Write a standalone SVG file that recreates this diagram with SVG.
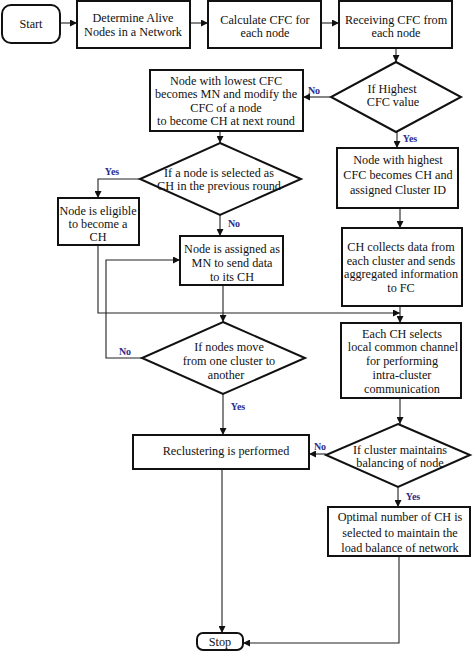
<svg xmlns="http://www.w3.org/2000/svg" width="474" height="652" viewBox="0 0 474 652">
<defs>
<marker id="ah" viewBox="0 0 8 8" refX="8" refY="4" markerWidth="7" markerHeight="7" markerUnits="userSpaceOnUse" orient="auto">
<path d="M0,0 L8,4 L0,8 Z" fill="#111"/>
</marker>
<style>
.box{fill:#fff;stroke:#111;stroke-width:2}
.t{font-family:"Liberation Serif","Times New Roman",serif;font-size:12.2px;fill:#111;text-anchor:middle}
.lbl{font-family:"Liberation Serif","Times New Roman",serif;font-size:10px;font-weight:bold;fill:#2b2b8c;text-anchor:middle}
.c{fill:none;stroke:#222;stroke-width:1.1}
.ca{fill:none;stroke:#222;stroke-width:1.1;marker-end:url(#ah)}
</style>
</defs>
<rect width="474" height="652" fill="#fff"/>

<g id="connectors">
<path class="ca" d="M60,23 H77"/>
<path class="ca" d="M190,23 H208"/>
<path class="ca" d="M321,23 H339"/>
<path class="ca" d="M396,48 V62"/>
<path class="ca" d="M330,97 H303"/>
<path class="ca" d="M397,132 V148"/>
<path class="ca" d="M220,131 V143"/>
<path class="ca" d="M140,179 H98 V198"/>
<path class="ca" d="M220,215 V236"/>
<path class="ca" d="M400,208 V228"/>
<path class="ca" d="M400,306 V323"/>
<path class="ca" d="M98,245 V313 H400"/>
<path class="ca" d="M223,285 V322"/>
<path class="ca" d="M142,358 H106 V260 H180"/>
<path class="ca" d="M223,394 V435"/>
<path class="ca" d="M400,398 V424"/>
<path class="ca" d="M326,454 H309"/>
<path class="ca" d="M398,487 V507"/>
<path class="ca" d="M222,469 V633"/>
<path class="ca" d="M399,556 V643 H243"/>
<text class="lbl" x="314" y="94">No</text>
<text class="lbl" x="410" y="142">Yes</text>
<text class="lbl" x="112" y="175">Yes</text>
<text class="lbl" x="234" y="227">No</text>
<text class="lbl" x="125" y="355">No</text>
<text class="lbl" x="238" y="410">Yes</text>
<text class="lbl" x="320" y="450">No</text>
<text class="lbl" x="413" y="500">Yes</text>
</g>

<g id="start">
<rect class="box" x="2" y="5" width="58" height="38" rx="9"/>
<text class="t" x="31" y="28">Start</text>
</g>

<g id="determine">
<rect class="box" x="77" y="1" width="113" height="47"/>
<text class="t" x="133" y="22">Determine Alive</text>
<text class="t" x="133" y="36">Nodes in a Network</text>
</g>

<g id="calculate">
<rect class="box" x="208" y="1" width="113" height="47"/>
<text class="t" x="265" y="24">Calculate CFC for</text>
<text class="t" x="265" y="37">each node</text>
</g>

<g id="receiving">
<rect class="box" x="339" y="1" width="113" height="47"/>
<text class="t" x="396" y="24">Receiving CFC from</text>
<text class="t" x="396" y="37">each node</text>
</g>

<g id="highest-decision">
<polygon class="box" points="396,62 461,97 396,132 331,97"/>
<text class="t" x="392" y="93">If Highest</text>
<text class="t" x="393" y="106">CFC value</text>
</g>

<g id="lowest-cfc">
<rect class="box" x="150" y="70" width="153" height="61"/>
<text class="t" x="226" y="85">Node with lowest CFC</text>
<text class="t" x="226" y="98">becomes MN and modify the</text>
<text class="t" x="226" y="112">CFC of a node</text>
<text class="t" x="226" y="125">to become CH at next round</text>
</g>

<g id="highest-ch">
<rect class="box" x="337" y="148" width="121" height="60"/>
<text class="t" x="398" y="164">Node with highest</text>
<text class="t" x="398" y="179">CFC  becomes CH and</text>
<text class="t" x="398" y="194">assigned Cluster ID</text>
</g>

<g id="previous-decision">
<polygon class="box" points="220,143 301,179 220,215 140,179"/>
<text class="t" x="219" y="177">If a node is selected as</text>
<text class="t" x="219" y="190">CH  in the previous round</text>
</g>

<g id="eligible">
<rect class="box" x="58" y="198" width="81" height="47"/>
<text class="t" x="98" y="215">Node is eligible</text>
<text class="t" x="98" y="228">to become a</text>
<text class="t" x="98" y="241">CH</text>
</g>

<g id="assigned">
<rect class="box" x="180" y="236" width="103" height="49"/>
<text class="t" x="232" y="253">Node is assigned as</text>
<text class="t" x="232" y="267">MN  to send data</text>
<text class="t" x="232" y="281">to its  CH</text>
</g>

<g id="collects">
<rect class="box" x="342" y="228" width="120" height="78"/>
<text class="t" x="401" y="251">CH collects data from</text>
<text class="t" x="401" y="265">each cluster and sends</text>
<text class="t" x="401" y="278">aggregated information</text>
<text class="t" x="401" y="292">to FC</text>
</g>

<g id="move-decision">
<polygon class="box" points="223,322 305,358 223,394 142,358"/>
<text class="t" x="229" y="351">If nodes move</text>
<text class="t" x="229" y="365">from one cluster to</text>
<text class="t" x="226" y="379">another</text>
</g>

<g id="channel">
<rect class="box" x="341" y="323" width="120" height="75"/>
<text class="t" x="402" y="338">Each CH selects</text>
<text class="t" x="403" y="351">local common channel</text>
<text class="t" x="402" y="365">for performing</text>
<text class="t" x="402" y="379">intra-cluster</text>
<text class="t" x="402" y="393">communication</text>
</g>

<g id="reclustering">
<rect class="box" x="133" y="435" width="176" height="34"/>
<text class="t" x="226" y="455">Reclustering is performed</text>
</g>

<g id="balance-decision">
<polygon class="box" points="398,424 470,455 398,487 326,455"/>
<text class="t" x="400" y="454">If cluster maintains</text>
<text class="t" x="400" y="467">balancing of node</text>
</g>

<g id="optimal">
<rect class="box" x="328" y="507" width="142" height="49"/>
<text class="t" x="400" y="521">Optimal number of CH is</text>
<text class="t" x="400" y="537">selected to maintain the</text>
<text class="t" x="400" y="552">load balance of network</text>
</g>

<g id="stop">
<rect class="box" x="197" y="633" width="46" height="17" rx="6"/>
<text class="t" x="220" y="646">Stop</text>
</g>
</svg>
